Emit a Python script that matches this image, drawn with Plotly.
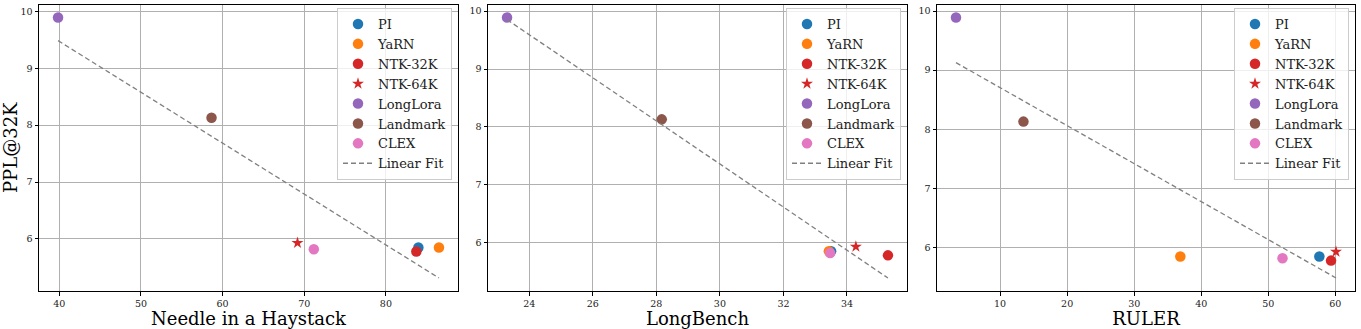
import numpy as np
import plotly.graph_objects as go

methods = ["PI", "YaRN", "NTK-32K", "NTK-64K", "LongLora", "Landmark", "CLEX"]
colors = ["#1f77b4", "#ff7f0e", "#d62728", "#d62728", "#9467bd", "#8c564b", "#e377c2"]
symbols = ["circle", "circle", "circle", "star", "circle", "circle", "circle"]

ppl_32k = [5.85, 5.85, 5.78, 5.93, 9.89, 8.13, 5.82]
needle = [83.98, 86.50, 83.73, 69.17, 39.84, 58.64, 71.17]
longbench = [33.50, 33.43, 35.29, 34.28, 23.30, 28.17, 33.47]
ruler = [57.62, 36.88, 59.36, 60.10, 3.42, 13.48, 52.12]

panels = [
    ("Needle in a Haystack", needle, 10),
    ("LongBench", longbench, 2),
    ("RULER", ruler, 10),
]

W, H = 1361, 329
x_dom_px = [(39, 458), (488, 907), (937, 1355)]
y_top_px, y_bot_px = 4.5, 291
FONT = "DejaVu Serif"

fig = go.Figure()
layout = {}

for i, (title, xs, dtick) in enumerate(panels):
    k = "" if i == 0 else str(i + 1)
    xa, ya = "x" + k, "y" + k
    leg = "legend" + k
    for m, c, s, xv, yv in zip(methods, colors, symbols, xs, ppl_32k):
        fig.add_trace(go.Scatter(
            x=[xv], y=[yv], mode="markers", name=m,
            marker=dict(color=c, symbol=s, size=10.5 if s == "circle" else 9,
                        line=dict(width=0)),
            xaxis=xa, yaxis=ya, legend=leg,
        ))
    coef = np.polyfit(xs, ppl_32k, 1)
    xfit = np.array([min(xs), max(xs)])
    yfit = np.polyval(coef, xfit)
    fig.add_trace(go.Scatter(
        x=xfit, y=yfit, mode="lines", name="Linear Fit",
        line=dict(color="gray", width=1.3, dash="5px,3px"),
        xaxis=xa, yaxis=ya, legend=leg,
    ))
    # matplotlib-like autoscale with 5% margins
    allx = list(xs) + list(xfit)
    ally = list(ppl_32k) + list(yfit)
    rx = max(allx) - min(allx)
    ry = max(ally) - min(ally)
    xr = [min(allx) - 0.05 * rx, max(allx) + 0.05 * rx]
    yr = [min(ally) - 0.05 * ry, max(ally) + 0.05 * ry]

    x0, x1 = x_dom_px[i]
    axis_common = dict(
        showline=True, linecolor="black", linewidth=1, mirror=True,
        showgrid=True, gridcolor="#b0b0b0", gridwidth=0.8,
        ticks="outside", ticklen=3.5, tickcolor="black", tickwidth=0.8,
        tickfont=dict(family=FONT, size=9.5, color="#222"),
        zeroline=False,
    )
    layout["xaxis" + k] = dict(
        axis_common, domain=[x0 / W, x1 / W], range=xr, dtick=dtick,
        anchor=ya,
        title=dict(text=title, font=dict(family=FONT, size=18, color="black"), standoff=4),
    )
    yax = dict(axis_common, domain=[1 - y_bot_px / H, 1 - y_top_px / H],
               range=yr, dtick=1, anchor=xa)
    if i == 0:
        yax["title"] = dict(text="PPL@32K", font=dict(family=FONT, size=18, color="black"), standoff=6)
    layout["yaxis" + k] = yax
    layout[leg] = dict(
        x=(x1 - 6) / W, xanchor="right", y=1 - 8 / H, yanchor="top",
        bgcolor="rgba(255,255,255,0.8)", bordercolor="#cccccc", borderwidth=1,
        font=dict(family=FONT, size=13, color="#222"),
    )

fig.update_layout(
    width=W, height=H,
    margin=dict(l=0, r=0, t=0, b=0),
    paper_bgcolor="white", plot_bgcolor="white",
    font=dict(family=FONT, color="#222"),
    showlegend=True,
    **layout,
)

fig.write_html(
    "out.html",
    config={"displayModeBar": False},
    post_script="document.body.style.margin='0';document.body.style.overflow='hidden';",
)
